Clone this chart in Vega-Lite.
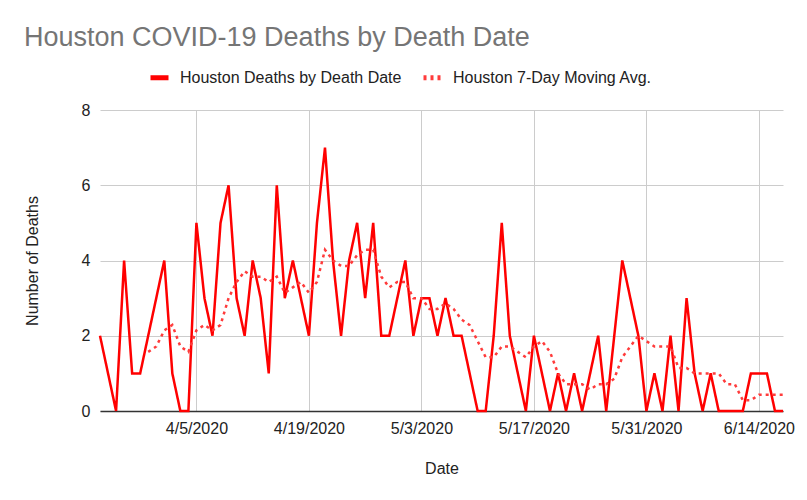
{
  "$schema": "https://vega.github.io/schema/vega-lite/v6.json",
  "autosize": {"type": "none"},
  "width": 683,
  "height": 301,
  "padding": {"left": 100, "top": 110, "right": 24, "bottom": 89},
  "background": "#ffffff",
  "title": {
    "text": "Houston COVID-19 Deaths by Death Date",
    "anchor": "start",
    "frame": "group",
    "dx": -76,
    "offset": 14,
    "font": "Liberation Sans",
    "fontSize": 27,
    "fontWeight": "normal",
    "color": "#757575"
  },
  "config": {
    "view": {"stroke": null},
    "font": "Liberation Sans",
    "axis": {
      "labelFont": "Liberation Sans",
      "titleFont": "Liberation Sans",
      "labelFontSize": 16,
      "titleFontSize": 16,
      "labelColor": "#222222",
      "titleColor": "#222222",
      "titleFontWeight": "normal",
      "gridColor": "#cccccc",
      "gridWidth": 1,
      "ticks": false
    },
    "legend": {
      "labelFont": "Liberation Sans",
      "labelFontSize": 16,
      "labelColor": "#222222",
      "labelLimit": 400
    }
  },
  "data": {
    "values": [
      {"date": "2020-03-24", "deaths": 2},
      {"date": "2020-03-25", "deaths": 1},
      {"date": "2020-03-26", "deaths": 0},
      {"date": "2020-03-27", "deaths": 4},
      {"date": "2020-03-28", "deaths": 1},
      {"date": "2020-03-29", "deaths": 1},
      {"date": "2020-03-30", "deaths": 2, "avg": 1.571},
      {"date": "2020-03-31", "deaths": 3, "avg": 1.714},
      {"date": "2020-04-01", "deaths": 4, "avg": 2.143},
      {"date": "2020-04-02", "deaths": 1, "avg": 2.286},
      {"date": "2020-04-03", "deaths": 0, "avg": 1.714},
      {"date": "2020-04-04", "deaths": 0, "avg": 1.571},
      {"date": "2020-04-05", "deaths": 5, "avg": 2.143},
      {"date": "2020-04-06", "deaths": 3, "avg": 2.286},
      {"date": "2020-04-07", "deaths": 2, "avg": 2.143},
      {"date": "2020-04-08", "deaths": 5, "avg": 2.286},
      {"date": "2020-04-09", "deaths": 6, "avg": 3.0},
      {"date": "2020-04-10", "deaths": 3, "avg": 3.429},
      {"date": "2020-04-11", "deaths": 2, "avg": 3.714},
      {"date": "2020-04-12", "deaths": 4, "avg": 3.571},
      {"date": "2020-04-13", "deaths": 3, "avg": 3.571},
      {"date": "2020-04-14", "deaths": 1, "avg": 3.429},
      {"date": "2020-04-15", "deaths": 6, "avg": 3.571},
      {"date": "2020-04-16", "deaths": 3, "avg": 3.143},
      {"date": "2020-04-17", "deaths": 4, "avg": 3.286},
      {"date": "2020-04-18", "deaths": 3, "avg": 3.429},
      {"date": "2020-04-19", "deaths": 2, "avg": 3.143},
      {"date": "2020-04-20", "deaths": 5, "avg": 3.429},
      {"date": "2020-04-21", "deaths": 7, "avg": 4.286},
      {"date": "2020-04-22", "deaths": 4, "avg": 4.0},
      {"date": "2020-04-23", "deaths": 2, "avg": 3.857},
      {"date": "2020-04-24", "deaths": 4, "avg": 3.857},
      {"date": "2020-04-25", "deaths": 5, "avg": 4.143},
      {"date": "2020-04-26", "deaths": 3, "avg": 4.286},
      {"date": "2020-04-27", "deaths": 5, "avg": 4.286},
      {"date": "2020-04-28", "deaths": 2, "avg": 3.571},
      {"date": "2020-04-29", "deaths": 2, "avg": 3.286},
      {"date": "2020-04-30", "deaths": 3, "avg": 3.429},
      {"date": "2020-05-01", "deaths": 4, "avg": 3.429},
      {"date": "2020-05-02", "deaths": 2, "avg": 3.0},
      {"date": "2020-05-03", "deaths": 3, "avg": 3.0},
      {"date": "2020-05-04", "deaths": 3, "avg": 2.714},
      {"date": "2020-05-05", "deaths": 2, "avg": 2.714},
      {"date": "2020-05-06", "deaths": 3, "avg": 2.857},
      {"date": "2020-05-07", "deaths": 2, "avg": 2.714},
      {"date": "2020-05-08", "deaths": 2, "avg": 2.429},
      {"date": "2020-05-09", "deaths": 1, "avg": 2.286},
      {"date": "2020-05-10", "deaths": 0, "avg": 1.857},
      {"date": "2020-05-11", "deaths": 0, "avg": 1.429},
      {"date": "2020-05-12", "deaths": 2, "avg": 1.429},
      {"date": "2020-05-13", "deaths": 5, "avg": 1.714},
      {"date": "2020-05-14", "deaths": 2, "avg": 1.714},
      {"date": "2020-05-15", "deaths": 1, "avg": 1.571},
      {"date": "2020-05-16", "deaths": 0, "avg": 1.429},
      {"date": "2020-05-17", "deaths": 2, "avg": 1.714},
      {"date": "2020-05-18", "deaths": 1, "avg": 1.857},
      {"date": "2020-05-19", "deaths": 0, "avg": 1.571},
      {"date": "2020-05-20", "deaths": 1, "avg": 1.0},
      {"date": "2020-05-21", "deaths": 0, "avg": 0.714},
      {"date": "2020-05-22", "deaths": 1, "avg": 0.714},
      {"date": "2020-05-23", "deaths": 0, "avg": 0.714},
      {"date": "2020-05-24", "deaths": 1, "avg": 0.571},
      {"date": "2020-05-25", "deaths": 2, "avg": 0.714},
      {"date": "2020-05-26", "deaths": 0, "avg": 0.714},
      {"date": "2020-05-27", "deaths": 2, "avg": 0.857},
      {"date": "2020-05-28", "deaths": 4, "avg": 1.429},
      {"date": "2020-05-29", "deaths": 3, "avg": 1.714},
      {"date": "2020-05-30", "deaths": 2, "avg": 2.0},
      {"date": "2020-05-31", "deaths": 0, "avg": 1.857},
      {"date": "2020-06-01", "deaths": 1, "avg": 1.714},
      {"date": "2020-06-02", "deaths": 0, "avg": 1.714},
      {"date": "2020-06-03", "deaths": 2, "avg": 1.714},
      {"date": "2020-06-04", "deaths": 0, "avg": 1.143},
      {"date": "2020-06-05", "deaths": 3, "avg": 1.143},
      {"date": "2020-06-06", "deaths": 1, "avg": 1.0},
      {"date": "2020-06-07", "deaths": 0, "avg": 1.0},
      {"date": "2020-06-08", "deaths": 1, "avg": 1.0},
      {"date": "2020-06-09", "deaths": 0, "avg": 1.0},
      {"date": "2020-06-10", "deaths": 0, "avg": 0.714},
      {"date": "2020-06-11", "deaths": 0, "avg": 0.714},
      {"date": "2020-06-12", "deaths": 0, "avg": 0.286},
      {"date": "2020-06-13", "deaths": 1, "avg": 0.286},
      {"date": "2020-06-14", "deaths": 1, "avg": 0.429},
      {"date": "2020-06-15", "deaths": 1, "avg": 0.429},
      {"date": "2020-06-16", "deaths": 0, "avg": 0.429},
      {"date": "2020-06-17", "deaths": 0, "avg": 0.429}
    ]
  },
  "encoding": {
    "x": {
      "field": "date",
      "type": "temporal",
      "title": "Date",
      "scale": {
        "type": "utc",
        "domain": [
          {"year": 2020, "month": 3, "date": 24, "utc": true},
          {"year": 2020, "month": 6, "date": 17, "utc": true}
        ]
      },
      "axis": {
        "values": [
          {"year": 2020, "month": 4, "date": 5, "utc": true},
          {"year": 2020, "month": 4, "date": 19, "utc": true},
          {"year": 2020, "month": 5, "date": 3, "utc": true},
          {"year": 2020, "month": 5, "date": 17, "utc": true},
          {"year": 2020, "month": 5, "date": 31, "utc": true},
          {"year": 2020, "month": 6, "date": 14, "utc": true}
        ],
        "labelExpr": "utcFormat(datum.value, '%-m/%-d/%Y')",
        "labelPadding": 9,
        "domainColor": "#333333",
        "domainWidth": 1.5,
        "titleX": 341.5,
        "titleY": 57,
        "titleBaseline": "middle"
      }
    },
    "y": {
      "type": "quantitative",
      "scale": {"domain": [0, 8]},
      "axis": {
        "values": [0, 2, 4, 6, 8],
        "title": "Number of Deaths",
        "domain": false,
        "labelPadding": 10,
        "titleX": -68,
        "titleY": 150.5,
        "titleAngle": -90,
        "titleAlign": "center",
        "titleBaseline": "middle"
      }
    },
    "color": {
      "scale": {
        "domain": ["Houston Deaths by Death Date", "Houston 7-Day Moving Avg."],
        "range": ["#ff0000", "#ff3b3b"]
      },
      "legend": {
        "title": null,
        "orient": "none",
        "direction": "horizontal",
        "legendX": 48,
        "legendY": -44,
        "symbolType": "stroke",
        "symbolSize": 324,
        "symbolStrokeWidth": 5,
        "labelOffset": 9,
        "columnPadding": 11
      }
    },
    "strokeDash": {
      "scale": {
        "domain": ["Houston Deaths by Death Date", "Houston 7-Day Moving Avg."],
        "range": [[1, 0], [3, 4]]
      },
      "legend": {
        "title": null,
        "orient": "none",
        "direction": "horizontal",
        "legendX": 48,
        "legendY": -44,
        "symbolType": "stroke",
        "symbolSize": 324,
        "symbolStrokeWidth": 5,
        "labelOffset": 9,
        "columnPadding": 11
      }
    }
  },
  "layer": [
    {
      "mark": {"type": "line", "strokeWidth": 2.5, "strokeJoin": "miter"},
      "encoding": {
        "y": {"field": "deaths", "type": "quantitative", "title": "Number of Deaths"},
        "color": {"datum": "Houston Deaths by Death Date"},
        "strokeDash": {"datum": "Houston Deaths by Death Date"}
      }
    },
    {
      "mark": {"type": "line", "strokeWidth": 2.5, "strokeCap": "butt"},
      "encoding": {
        "y": {"field": "avg", "type": "quantitative", "title": "Number of Deaths"},
        "color": {"datum": "Houston 7-Day Moving Avg."},
        "strokeDash": {"datum": "Houston 7-Day Moving Avg."}
      }
    }
  ]
}
